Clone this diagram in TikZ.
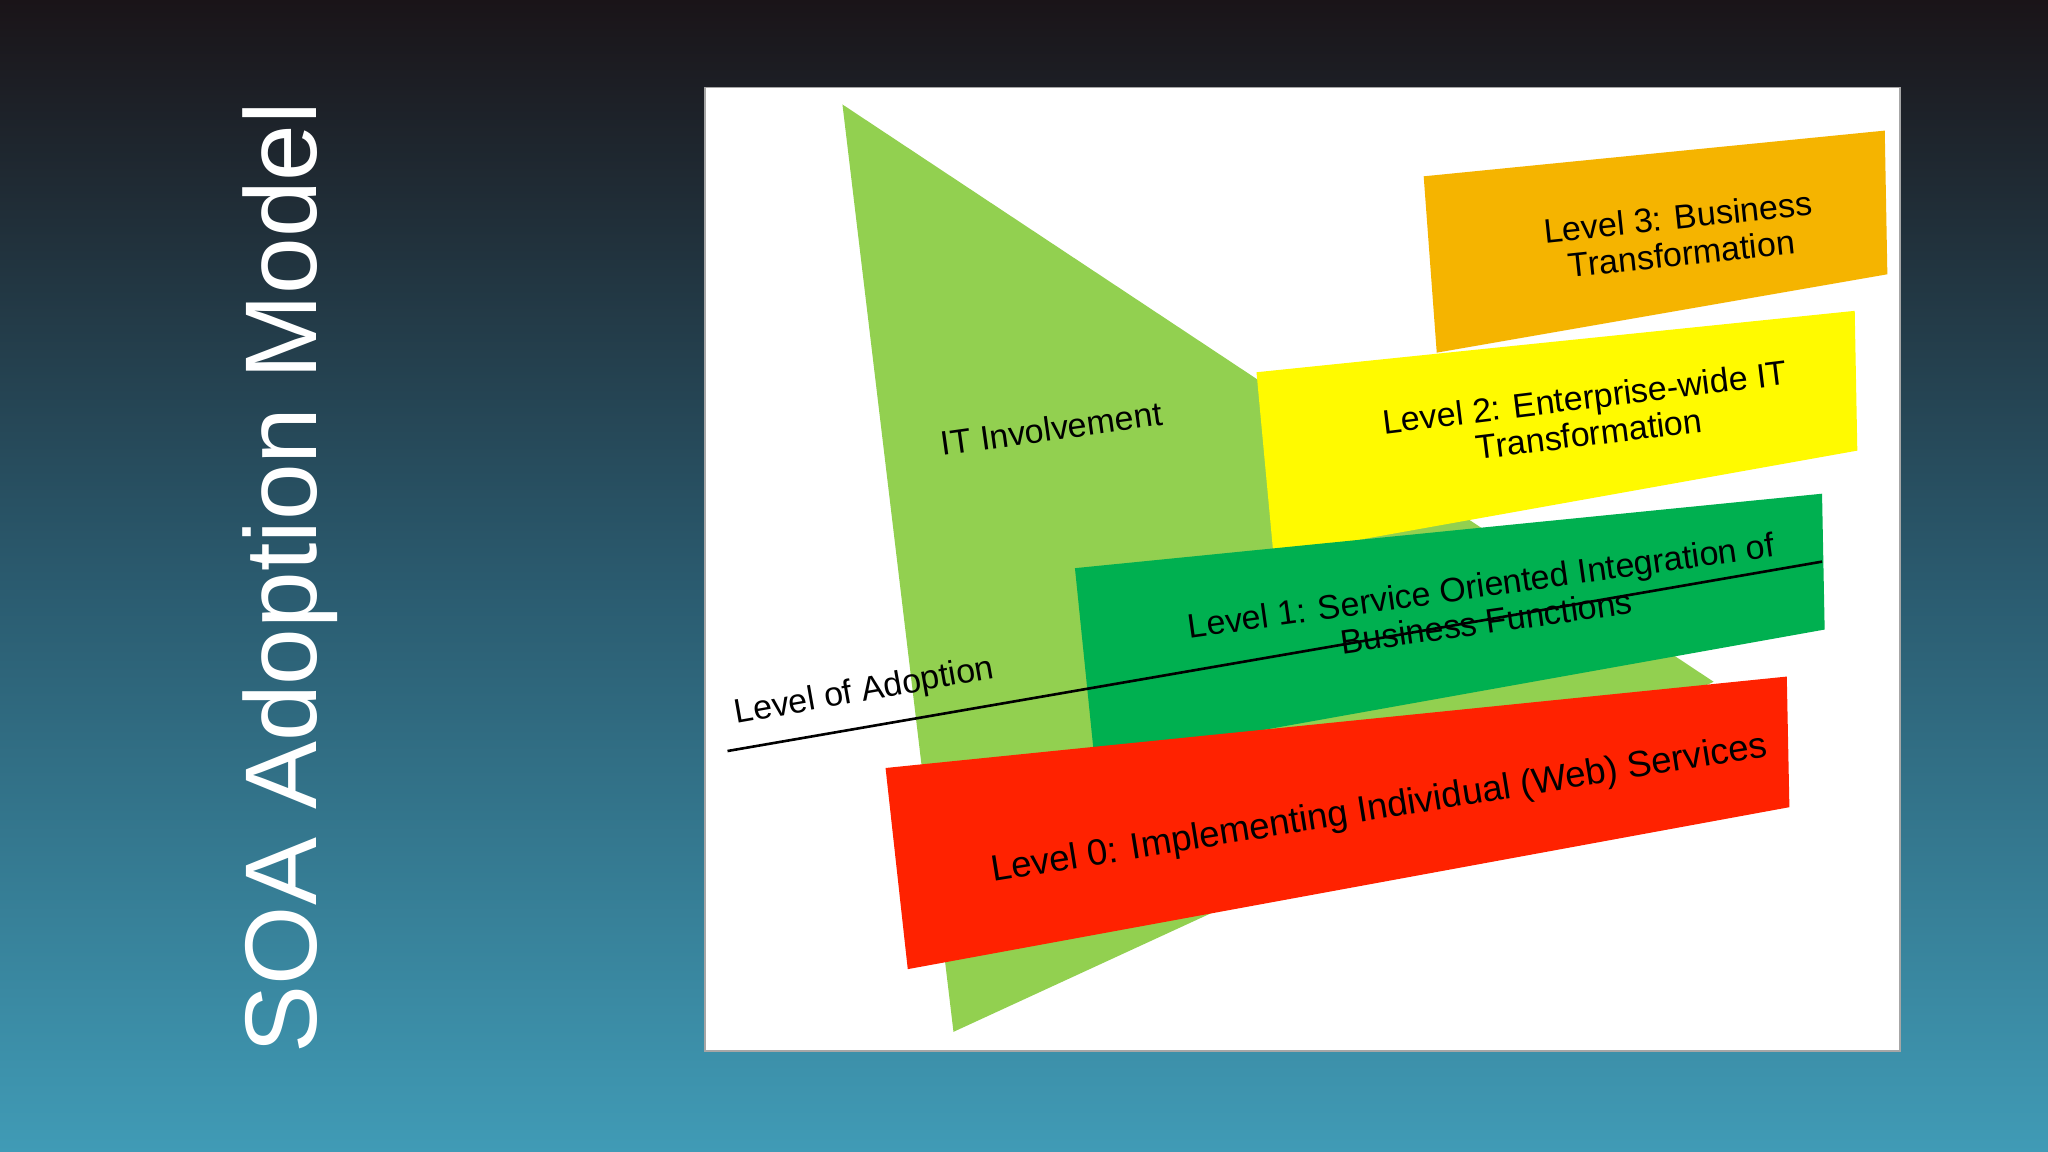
\documentclass[tikz,border=0pt]{standalone}
\usepackage{fontspec}
\setmainfont{Liberation Sans}
\begin{document}
\begin{tikzpicture}[x=1pt,y=-1pt,
  lvl/.style={font=\fontsize{26}{28}\selectfont,align=center,text=black,inner sep=1pt},
  band/.style={draw=none}]
\useasboundingbox (0,0) rectangle (1568,882);
\shade[top color={rgb,255:red,26;green,20;blue,24}, bottom color={rgb,255:red,64;green,155;blue,182}, middle color={rgb,255:red,42;green,90;blue,110}] (0,0) rectangle (1568,882);
\node[rotate=90,text=white,font=\fontsize{78}{78}\selectfont] (title) at (222,442) {SOA Adoption Model};
\node[draw=gray!70,line width=1.5pt,fill=white,minimum width=915pt,minimum height=738pt,inner sep=0] (frame) at (997.5,436) {};
\fill[color={rgb,255:red,146;green,208;blue,80}] (645,80) -- (1312,522) -- (730,790) -- cycle;
\fill[color={rgb,255:red,245;green,180;blue,0}] (1090,135) -- (1443,100) -- (1445,210) -- (1100,270) -- cycle;
\fill[color={rgb,255:red,255;green,250;blue,0}] (962,285) -- (1420,238) -- (1422,345) -- (975,425) -- cycle;
\fill[color={rgb,255:red,0;green,176;blue,80}] (823,435) -- (1395,378) -- (1397,482) -- (838,582) -- cycle;
\fill[color={rgb,255:red,255;green,34;blue,0}] (678,588) -- (1368,518) -- (1370,618) -- (695,742) -- cycle;
\coordinate (la) at (557,575);
\coordinate (lb) at (1395,430);
\draw[line width=2pt] (la) -- (lb);
\node[lvl,rotate=6] (l3) at (1286,180) {Level 3: Business\\Transformation};
\node[lvl,rotate=7] (l2) at (1215,318) {Level 2: Enterprise-wide IT\\Transformation};
\node[lvl,rotate=8] (l1) at (1136,462) {Level 1: Service Oriented Integration of\\Business Functions};
\node[lvl,rotate=9.2,font=\fontsize{28}{30}\selectfont] (l0) at (1056,620) {Level 0: Implementing Individual (Web) Services};
\node[lvl,rotate=8] (it) at (805,328) {IT Involvement};
\node[lvl,rotate=10] (ad) at (662,530) {Level of Adoption};
\end{tikzpicture}
\end{document}
